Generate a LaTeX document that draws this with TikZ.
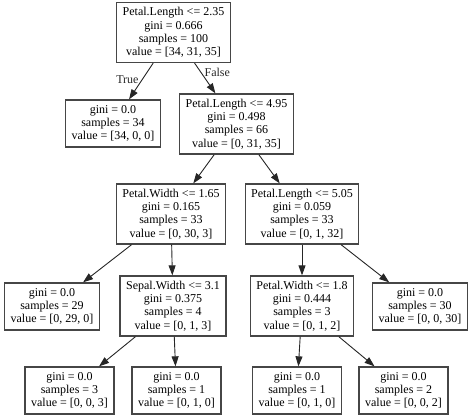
\documentclass[tikz,border=0pt]{standalone}
\usepackage{fontspec}
\setmainfont{Liberation Serif}
\usetikzlibrary{arrows.meta}

\begin{document}
\begin{tikzpicture}[x=1pt,y=-1pt,
  every node/.style={font=\fontsize{12}{13.3}\selectfont},
  split/.style={draw=gray!55!black,line width=1.3pt,fill=white,align=center,inner xsep=6pt,minimum height=60pt},
  leaf/.style={split,minimum height=47pt},
  edge/.style={-{Triangle[length=10pt,width=7pt]},line width=0.9pt,black!85}]
  \useasboundingbox (0,0) rectangle (474,418);
  % decision nodes
  \node[split] (n0) at (173.5,32.5) {Petal.Length <= 2.35\\gini = 0.666\\samples = 100\\value = [34, 31, 35]};
  \node[split] (n2) at (236.5,124) {Petal.Length <= 4.95\\gini = 0.498\\samples = 66\\value = [0, 31, 35]};
  \node[split] (n3) at (171,214) {Petal.Width <= 1.65\\gini = 0.165\\samples = 33\\value = [0, 30, 3]};
  \node[split] (n4) at (302,214) {Petal.Length <= 5.05\\gini = 0.059\\samples = 33\\value = [0, 1, 32]};
  \node[split] (n6) at (173,306) {Sepal.Width <= 3.1\\gini = 0.375\\samples = 4\\value = [0, 1, 3]};
  \node[split] (n7) at (302,306) {Petal.Width <= 1.8\\gini = 0.444\\samples = 3\\value = [0, 1, 2]};
  % leaves
  \node[leaf] (n1) at (113,123.5) {gini = 0.0\\samples = 34\\value = [34, 0, 0]};
  \node[leaf] (n5) at (52,306.5) {gini = 0.0\\samples = 29\\value = [0, 29, 0]};
  \node[leaf] (n8) at (420,306.5) {gini = 0.0\\samples = 30\\value = [0, 0, 30]};
  \node[leaf] (n9) at (69.5,390.5) {gini = 0.0\\samples = 3\\value = [0, 0, 3]};
  \node[leaf] (n10) at (176.5,390.5) {gini = 0.0\\samples = 1\\value = [0, 1, 0]};
  \node[leaf] (n11) at (297,390.5) {gini = 0.0\\samples = 1\\value = [0, 1, 0]};
  \node[leaf] (n12) at (403.5,390.5) {gini = 0.0\\samples = 2\\value = [0, 0, 2]};
  % edges
  \draw[edge] (n0) -- node[left,pos=0.45] {True} (n1);
  \draw[edge] (n0) -- node[right,pos=0.3] {False} (n2);
  \draw[edge] (n2) -- (n3);
  \draw[edge] (n2) -- (n4);
  \draw[edge] (n3) -- (n5);
  \draw[edge] (n3) -- (n6);
  \draw[edge] (n4) -- (n7);
  \draw[edge] (n4) -- (n8);
  \draw[edge] (n6) -- (n9);
  \draw[edge] (n6) -- (n10);
  \draw[edge] (n7) -- (n11);
  \draw[edge] (n7) -- (n12);
\end{tikzpicture}
\end{document}
